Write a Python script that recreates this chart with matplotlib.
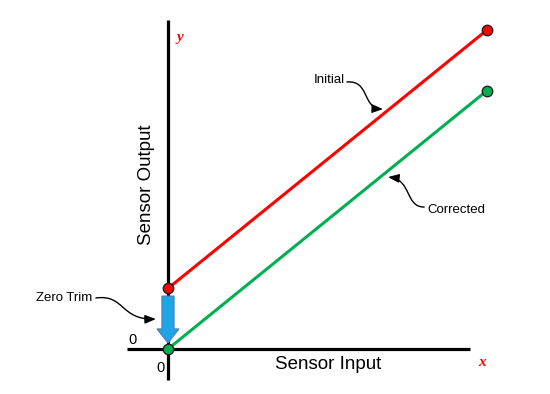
import matplotlib
matplotlib.use("Agg")
from matplotlib import pyplot as plt
from matplotlib.patches import FancyArrowPatch, FancyArrow
from matplotlib.path import Path

plt.rcParams["font.family"] = ["Liberation Sans", "DejaVu Sans"]

# sensor data (input vs output, arbitrary units)
sensor_input = [0, 100]
initial_output = [19, 100]
corrected_output = [0, 81]
zero_trim = [19, 0]

RED = "#ff0000"
GREEN = "#00b050"
BLUE = "#1ea5e6"


def curved_arrow(ax, pts):
    path = Path(pts, [Path.MOVETO, Path.CURVE4, Path.CURVE4, Path.CURVE4])
    arr = FancyArrowPatch(path=path, arrowstyle="-|>,head_length=0.5,head_width=0.2",
                          mutation_scale=13, color="black", lw=1.0, shrinkA=0, shrinkB=0)
    ax.add_patch(arr)


fig = plt.figure(figsize=(5.5, 3.94), dpi=100)
ax = fig.add_axes([0, 0, 1, 1])
ax.set_xlim(-52.66, 119.75)
ax.set_ylim(-14.1, 109.4)
ax.axis("off")

# axes lines
ax.plot([-12.9, 94.7], [0, 0], color="black", lw=2.3, solid_capstyle="butt", zorder=1)
ax.plot([0, 0], [-9.7, 103.1], color="black", lw=2.3, solid_capstyle="butt", zorder=1)

# sensor lines
ax.plot(sensor_input, initial_output, color=RED, lw=2.2, zorder=2)
ax.plot(sensor_input, corrected_output, color=GREEN, lw=2.2, zorder=2)
ax.plot(sensor_input, initial_output, "o", ms=7.5, mfc=RED, mec="#202020", mew=1.0, zorder=5)
ax.plot(sensor_input, corrected_output, "o", ms=7.5, mfc=GREEN, mec="#202020", mew=1.0, zorder=5)

# zero trim arrow
ax.add_patch(FancyArrow(0, zero_trim[0] - 2.4, 0, -(zero_trim[0] - 2.4 - zero_trim[1] - 1.9),
                        width=3.8, head_width=6.9, head_length=4.4,
                        length_includes_head=True, fc=BLUE, ec="#4a7fb5", lw=0.8, zorder=3))

# labels
ax.text(2.8, 97.5, "y", color=RED, fontsize=11, fontweight="bold", fontstyle="italic",
        family="Liberation Serif", va="center", ha="left")
ax.text(97.2, -4.1, "x", color=RED, fontsize=11, fontweight="bold", fontstyle="italic",
        family="Liberation Serif", va="center", ha="left")
ax.text(-6.6, 51.4, "Sensor Output", rotation=90, fontsize=13.5, ha="center", va="center")
ax.text(50.2, -4.7, "Sensor Input", fontsize=13.5, ha="center", va="center")
ax.text(-11.0, 2.8, "0", fontsize=10.5, ha="center", va="center")
ax.text(-2.5, -6.0, "0", fontsize=10.5, ha="center", va="center")

# callouts
ax.text(55.5, 84.3, "Initial", fontsize=9.5, ha="right", va="center")
curved_arrow(ax, [(56.1, 83.7), (63.3, 84.3), (60.8, 75.5), (67.4, 75.2)])

ax.text(81.2, 43.6, "Corrected", fontsize=9.5, ha="left", va="center")
curved_arrow(ax, [(80.3, 44.5), (74.3, 44.5), (76.5, 53.0), (69.0, 53.9)])

ax.text(-23.8, 16.0, "Zero Trim", fontsize=9.5, ha="right", va="center")
curved_arrow(ax, [(-22.6, 16.0), (-13.5, 17.2), (-15.0, 9.1), (-3.8, 9.4)])

fig.savefig("out.png", dpi=100)
